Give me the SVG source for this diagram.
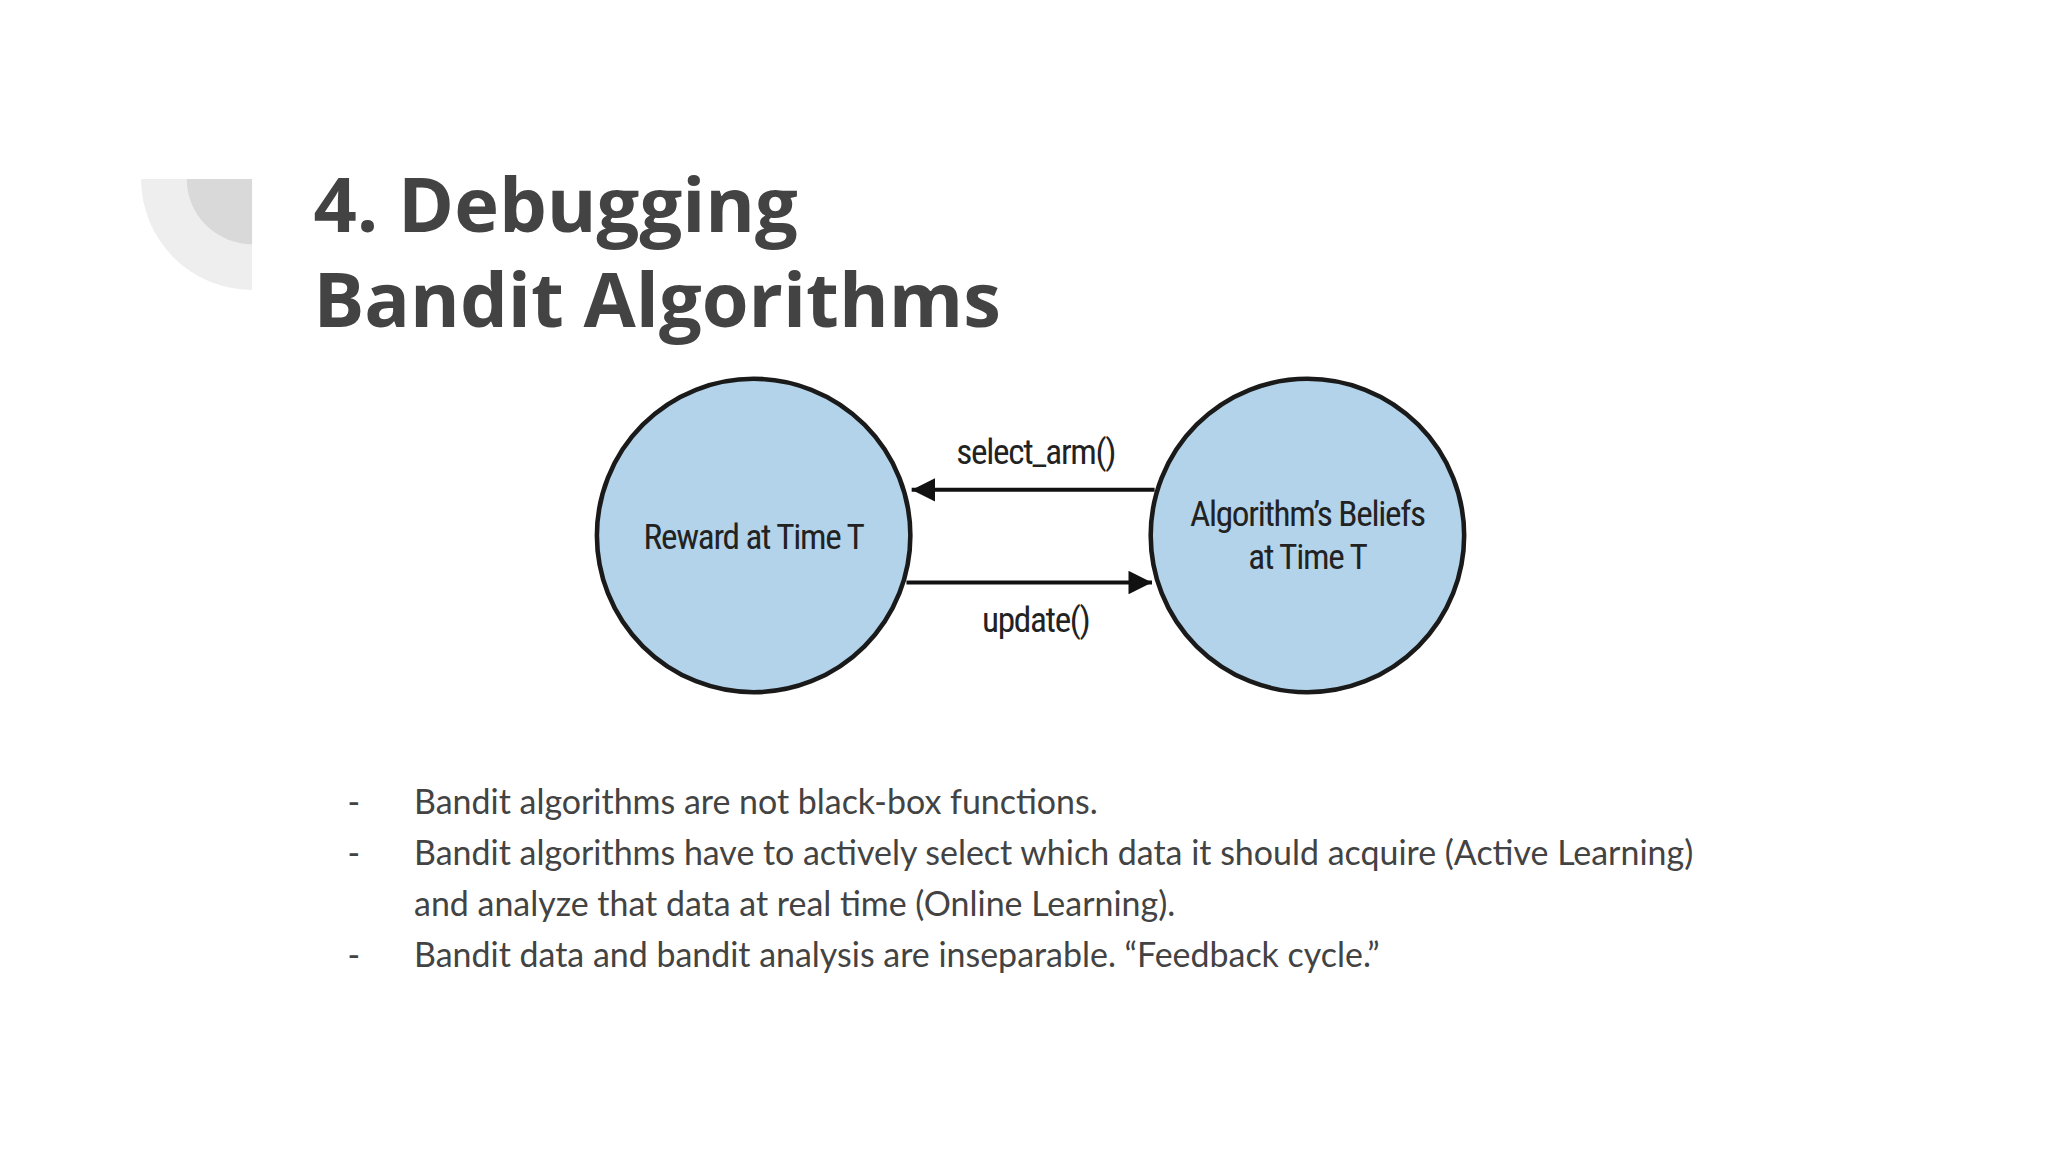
<svg xmlns="http://www.w3.org/2000/svg" width="2048" height="1152" viewBox="0 0 2048 1152">
<defs>
<style>
.t{font-family:"Open Sans","Liberation Sans",sans-serif;font-weight:bold;font-size:58px;fill:#434343}
.b{font-family:Lato,"Liberation Sans",sans-serif;font-size:26px;fill:#434343}
.n{font-family:"Liberation Sans Narrow","Roboto Condensed","Liberation Sans",sans-serif;font-size:27px;fill:#222;text-anchor:middle;letter-spacing:-1px}
.c{fill:#b3d3ea;stroke:#1a1a1a;stroke-width:3.5}
.l{stroke:#111;stroke-width:3;fill:none}
</style>
<marker id="ah" viewBox="0 0 10 10" refX="10" refY="5" markerWidth="6" markerHeight="6" orient="auto"><path d="M0,0L10,5L0,10z" fill="#111"/></marker>
</defs>
<rect width="2048" height="1152" fill="#fff"/>
<g transform="scale(1.30612)">
<g id="deco">
<path d="M108,137H193V222A85,85 0 0 1 108,137Z" fill="#eeeeee"/>
<path d="M143,137H193V187A50,50 0 0 1 143,137Z" fill="#d9d9d9"/>
</g>
<g id="title">
<text class="t" x="240" y="178">4. Debugging</text>
<text class="t" x="240" y="250">Bandit Algorithms</text>
</g>
<g id="reward">
<circle class="c" cx="577" cy="410" r="120"/>
<text class="n" x="577" y="420">Reward at Time T</text>
</g>
<g id="beliefs">
<circle class="c" cx="1001" cy="410" r="120"/>
<text class="n" x="1001" y="403">Algorithm’s Beliefs</text>
<text class="n" x="1001" y="436">at Time T</text>
</g>
<g id="connectors">
<line class="l" x1="884" y1="375" x2="698" y2="375" marker-end="url(#ah)"/>
<line class="l" x1="694" y1="446" x2="882" y2="446" marker-end="url(#ah)"/>
<text class="n" x="793" y="355">select_arm()</text>
<text class="n" x="793" y="484">update()</text>
</g>
<g id="bullets">
<text class="b" x="266" y="623">-</text>
<text class="b" x="317" y="623">Bandit algorithms are not black-box functions.</text>
<text class="b" x="266" y="662">-</text>
<text class="b" x="317" y="662">Bandit algorithms have to actively select which data it should acquire (Active Learning)</text>
<text class="b" x="317" y="701">and analyze that data at real time (Online Learning).</text>
<text class="b" x="266" y="740">-</text>
<text class="b" x="317" y="740">Bandit data and bandit analysis are inseparable. “Feedback cycle.”</text>
</g>
</g>
</svg>
